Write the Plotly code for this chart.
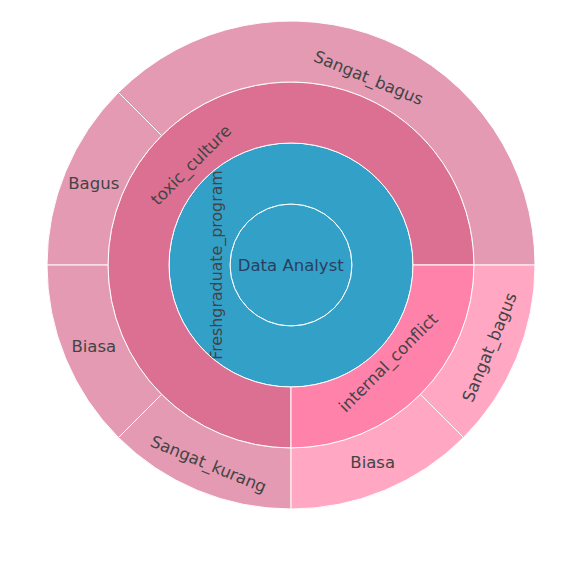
import plotly.graph_objects as go

ids = [
    "Data Analyst",
    "Data Analyst/Freshgraduate_program",
    "Data Analyst/Freshgraduate_program/toxic_culture",
    "Data Analyst/Freshgraduate_program/internal_conflict",
    "Data Analyst/Freshgraduate_program/toxic_culture/Sangat_bagus",
    "Data Analyst/Freshgraduate_program/toxic_culture/Bagus",
    "Data Analyst/Freshgraduate_program/toxic_culture/Biasa",
    "Data Analyst/Freshgraduate_program/toxic_culture/Sangat_kurang",
    "Data Analyst/Freshgraduate_program/internal_conflict/Biasa",
    "Data Analyst/Freshgraduate_program/internal_conflict/Sangat_bagus",
]
labels = ["Data Analyst", "Freshgraduate_program", "toxic_culture", "internal_conflict",
          "Sangat_bagus", "Bagus", "Biasa", "Sangat_kurang", "Biasa", "Sangat_bagus"]
parents = ["", ids[0], ids[1], ids[1], ids[2], ids[2], ids[2], ids[2], ids[3], ids[3]]
values = [8, 8, 6, 2, 3, 1, 1, 1, 1, 1]

colors = ["#33A0C8", "#33A0C8", "#DB7093", "#FF82AB",
          "#DB7093", "#DB7093", "#DB7093", "#DB7093", "#FF82AB", "#FF82AB"]
text_colors = ["#2a3f5f"] + ["#444444"] * 9

fig = go.Figure(go.Sunburst(
    ids=ids,
    labels=labels,
    parents=parents,
    values=values,
    branchvalues="total",
    marker=dict(colors=colors, line=dict(color="white", width=1)),
    insidetextfont=dict(color=text_colors, family="DejaVu Sans", size=16.5),
))
fig.update_layout(
    margin=dict(l=39, r=35, t=13, b=53),
    font=dict(family="DejaVu Sans", size=16.5),
    paper_bgcolor="white",
)
fig.write_html("out.html")
